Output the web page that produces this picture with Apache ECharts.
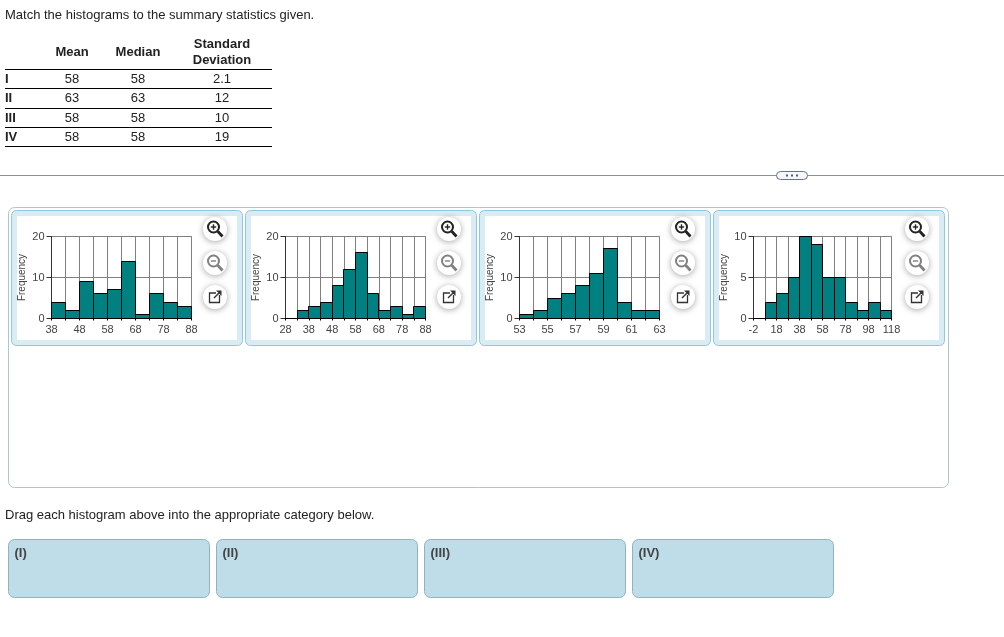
<!DOCTYPE html>
<html>
<head>
<meta charset="utf-8">
<title>Match the histograms</title>
<script src="https://cdn.jsdelivr.net/npm/echarts@6/dist/echarts.min.js"></script>
<style>
    html, body { margin: 0; padding: 0; background: #fff; }
    #chart { width: 1004px; height: 637px; }
</style>
</head>
<body>
<div id="chart"></div>
<script>
    // summary table
    var rowLabels = ['I', 'II', 'III', 'IV'];
    var means = ['58', '63', '58', '58'];
    var medians = ['58', '63', '58', '58'];
    var stdDevs = ['2.1', '12', '10', '19'];
    var dropLabels = ['(I)', '(II)', '(III)', '(IV)'];

    // bin edges and frequencies, one pair per histogram
    var edgesA = ['38', '43', '48', '53', '58', '63', '68', '73', '78', '83', '88'];
    var countsA = [4, 2, 9, 6, 7, 14, 1, 6, 4, 3];
    var edgesB = ['28', '33', '38', '43', '48', '53', '58', '63', '68', '73', '78', '83', '88'];
    var countsB = [0, 2, 3, 4, 8, 12, 16, 6, 2, 3, 1, 3];
    var edgesC = ['53', '54', '55', '56', '57', '58', '59', '60', '61', '62', '63'];
    var countsC = [1, 2, 5, 6, 8, 11, 17, 4, 2, 2];
    var edgesD = ['-2', '8', '18', '28', '38', '48', '58', '68', '78', '88', '98', '108', '118'];
    var countsD = [0, 2, 3, 5, 10, 9, 5, 5, 2, 1, 2, 1];
    var yMaxes = [20, 20, 20, 10];
    var yIntervals = [10, 10, 10, 5];

    var FONT = '"Liberation Sans", Arial, sans-serif';
    var panels = [
        { edges: edgesA, counts: countsA, cardX: 11, left: 51.5, width: 140 },
        { edges: edgesB, counts: countsB, cardX: 245, left: 285.5, width: 140 },
        { edges: edgesC, counts: countsC, cardX: 479, left: 519.5, width: 140 },
        { edges: edgesD, counts: countsD, cardX: 713, left: 753.5, width: 138 }
    ];

    function text(x, y, str, opts) {
        opts = opts || {};
        return {
            type: 'text', x: x, y: y,
            style: {
                text: str, fill: opts.fill || '#222', font: (opts.bold ? 'bold ' : '') + (opts.size || 13) + 'px ' + FONT,
                textAlign: opts.align || 'center', textVerticalAlign: 'middle'
            }
        };
    }

    function rule(x1, y1, x2, y2, color, lineWidth) {
        return {
            type: 'line',
            shape: { x1: x1, y1: y1, x2: x2, y2: y2 },
            style: { stroke: color, lineWidth: lineWidth || 1 }
        };
    }

    function box(x, y, w, h, r, fill, stroke) {
        return {
            type: 'rect', z: -1,
            shape: { x: x, y: y, width: w, height: h, r: r },
            style: { fill: fill, stroke: stroke, lineWidth: 1 }
        };
    }

    function iconDisc(cx, cy) {
        return {
            type: 'circle',
            shape: { cx: cx, cy: cy, r: 12 },
            style: { fill: '#fff', shadowBlur: 6, shadowColor: 'rgba(0,0,0,0.35)', shadowOffsetY: 1 }
        };
    }

    function magnifier(cx, cy, plus, color) {
        var lens = { x: cx - 1.5, y: cy - 2 };
        var parts = [
            iconDisc(cx, cy),
            { type: 'circle', shape: { cx: lens.x, cy: lens.y, r: 5.5 }, style: { fill: 'none', stroke: color, lineWidth: 2 } },
            rule(lens.x + 4.2, lens.y + 4.2, cx + 7.5, cy + 7.5, color, 2.8),
            rule(lens.x - 2.7, lens.y, lens.x + 2.7, lens.y, color, 1.4)
        ];
        if (plus) {
            parts.push(rule(lens.x, lens.y - 2.7, lens.x, lens.y + 2.7, color, 1.4));
        }
        return parts;
    }

    function popout(cx, cy) {
        var color = '#333';
        return [
            iconDisc(cx, cy),
            {
                type: 'polyline',
                shape: { points: [[cx + 4.5, cy - 2], [cx + 4.5, cy + 5.5], [cx - 5.5, cy + 5.5], [cx - 5.5, cy - 4], [cx + 1, cy - 4]] },
                style: { fill: 'none', stroke: color, lineWidth: 1.3 }
            },
            rule(cx - 1, cy + 1, cx + 4, cy - 4, color, 1.5),
            { type: 'polygon', shape: { points: [[cx + 1, cy - 6.5], [cx + 6.5, cy - 6.5], [cx + 6.5, cy - 1]] }, style: { fill: color } }
        ];
    }

    function buildGraphics() {
        var els = [];
        els.push(text(5, 15, 'Match the histograms to the summary statistics given.', { align: 'left' }));

        // table
        els.push(text(72, 52, 'Mean', { bold: true }));
        els.push(text(138, 52, 'Median', { bold: true }));
        els.push(text(222, 44, 'Standard', { bold: true }));
        els.push(text(222, 60, 'Deviation', { bold: true }));
        var rowY = [79, 98, 118, 137];
        [69.5, 88.5, 108.5, 127.5, 146.5].forEach(function (y) {
            els.push(rule(5, y, 272, y, '#000'));
        });
        rowLabels.forEach(function (label, i) {
            els.push(text(5, rowY[i], label, { align: 'left', bold: true }));
            els.push(text(72, rowY[i], means[i]));
            els.push(text(138, rowY[i], medians[i]));
            els.push(text(222, rowY[i], stdDevs[i]));
        });

        // divider
        els.push(rule(0, 175.5, 1004, 175.5, '#8a909c'));
        els.push({
            type: 'rect',
            shape: { x: 776.5, y: 171.5, width: 31, height: 8, r: 4 },
            style: { fill: '#f5f7fa', stroke: '#6b7280', lineWidth: 1 }
        });
        [787, 792, 797].forEach(function (x) {
            els.push({ type: 'rect', shape: { x: x - 1, y: 174.5, width: 2, height: 2 }, style: { fill: '#555b66' } });
        });

        // source area and histogram cards
        els.push(box(8.5, 207.5, 940, 280, 6, '#fff', '#a9c6d2'));
        panels.forEach(function (p) {
            els.push(box(p.cardX + 0.5, 210.5, 231, 135, 5, '#d9ecf4', '#8ec8dd'));
            els.push({ type: 'rect', z: -1, shape: { x: p.cardX + 6, y: 216, width: 220, height: 124 }, style: { fill: '#fff' } });
            var cx = p.cardX + 204;
            els = els.concat(magnifier(cx, 229, true, '#222'));
            els = els.concat(magnifier(cx, 263, false, '#808080'));
            els = els.concat(popout(cx, 297));
        });

        // drop targets
        els.push(text(5, 515, 'Drag each histogram above into the appropriate category below.', { align: 'left' }));
        dropLabels.forEach(function (label, i) {
            var x = 8.5 + i * 208;
            els.push(box(x, 539.5, 201, 58, 6, '#bedde9', '#90b2c2'));
            els.push(text(x + 6, 553, label, { align: 'left', bold: true, fill: '#444' }));
        });
        return els;
    }

    // keeps the black outlines on whole pixels
    function snap(v) {
        return Math.round(v - 0.5) + 0.5;
    }

    function renderBin(params, api) {
        var bin = api.value(0);
        var topLeft = api.coord([bin, api.value(1)]);
        var bottomRight = api.coord([bin + 1, 0]);
        var x = snap(topLeft[0]), y = snap(topLeft[1]);
        return {
            type: 'rect',
            shape: { x: x, y: y, width: snap(bottomRight[0]) - x, height: snap(bottomRight[1]) - y },
            style: { fill: '#008080', stroke: '#000', lineWidth: 1 }
        };
    }

    var grids = [], xAxes = [], yAxes = [], series = [];
    panels.forEach(function (p, i) {
        grids.push({
            show: true, left: p.left, top: 236.5, width: p.width, height: 82,
            backgroundColor: 'transparent', borderColor: '#808080', borderWidth: 1
        });
        xAxes.push({
            type: 'category', gridIndex: i, data: p.edges, boundaryGap: false,
            axisLine: { lineStyle: { color: '#000' } },
            axisTick: { show: true, interval: 0, length: 2, lineStyle: { color: '#000' } },
            axisLabel: { interval: 1, margin: 6, color: '#444', fontSize: 11, fontFamily: FONT },
            splitLine: { show: true, interval: 0, lineStyle: { color: '#808080', width: 1 } }
        });
        yAxes.push({
            type: 'value', gridIndex: i, min: 0, max: yMaxes[i], interval: yIntervals[i],
            name: 'Frequency', nameLocation: 'middle', nameGap: 24,
            nameTextStyle: { color: '#444', fontSize: 10, fontFamily: FONT },
            axisLine: { show: true, lineStyle: { color: '#333' } },
            axisTick: { show: true, length: 5, lineStyle: { color: '#333' } },
            axisLabel: { margin: 7, color: '#444', fontSize: 11, fontFamily: FONT },
            splitLine: { show: true, lineStyle: { color: '#808080', width: 1 } }
        });
        series.push({
            type: 'custom', xAxisIndex: i, yAxisIndex: i,
            renderItem: renderBin,
            encode: { x: 0, y: 1 },
            silent: true,
            data: p.counts.map(function (count, bin) { return [bin, count]; })
        });
    });

    var chart = echarts.init(document.getElementById('chart'));
    chart.setOption({
        animation: false,
        backgroundColor: '#fff',
        graphic: { elements: buildGraphics() },
        grid: grids,
        xAxis: xAxes,
        yAxis: yAxes,
        series: series
    });
</script>
</body>
</html>
